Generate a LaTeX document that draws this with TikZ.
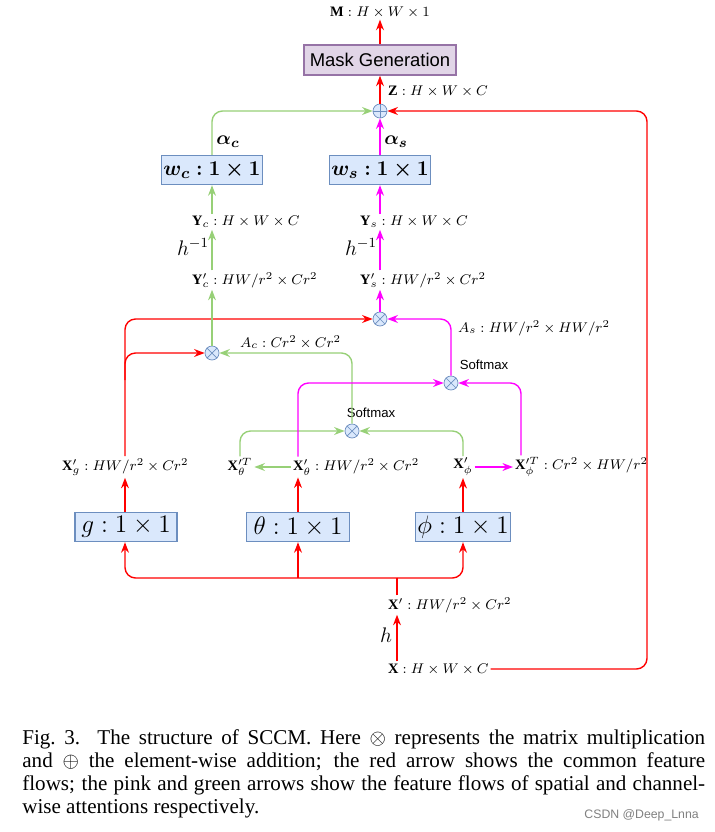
\documentclass[tikz,border=0pt]{standalone}
\usepackage{amsmath,bm}
\usepackage{fontspec}
\setmainfont{Liberation Serif}
\newfontfamily\sansf{Liberation Sans}
\usetikzlibrary{arrows.meta}
\definecolor{cred}{HTML}{FF0000}
\definecolor{cgreen}{HTML}{97D077}
\definecolor{cpink}{HTML}{FF00FF}
\definecolor{bfill}{HTML}{DAE8FC}
\definecolor{bdraw}{HTML}{6C8EBF}
\definecolor{pfill}{HTML}{E1D5E7}
\definecolor{pdraw}{HTML}{9673A6}
\begin{document}
\begin{tikzpicture}[x=0.02cm,y=-0.02cm,
  box/.style={draw=bdraw,fill=bfill,line width=0.8pt,minimum height=0.58cm,inner sep=1pt,font=\fontsize{14}{15}\selectfont},
  lab/.style={font=\fontsize{8.2}{9}\selectfont,inner sep=1pt},
  op/.style={circle,draw=bdraw,fill=bfill,minimum size=0.28cm,inner sep=0pt},
  red/.style={draw=cred,line width=0.8pt,-{Stealth[length=6pt]},rounded corners=6pt},
  grn/.style={draw=cgreen,line width=0.8pt,-{Stealth[length=6pt]},rounded corners=6pt},
  pnk/.style={draw=cpink,line width=0.8pt,-{Stealth[length=6pt]},rounded corners=6pt}]
\useasboundingbox (0,0) rectangle (715,832);
% top
\node[lab] (M) at (380,12) {$\mathbf{M}:H\times W\times 1$};
\node[draw=pdraw,fill=pfill,line width=0.8pt,minimum width=2.9cm,minimum height=0.6cm,font=\sansf\fontsize{10.5}{11}\selectfont] (mask) at (380,60) {Mask Generation};
\node[op] (plus) at (380,111) {};
\draw[bdraw] (plus.north)--(plus.south) (plus.west)--(plus.east);
\node[lab,anchor=west] (Z) at (386,91) {$\mathbf{Z}:H\times W\times C$};
\node[box,minimum width=2cm,font=\fontsize{12.5}{14}\selectfont] (wc) at (212,170) {$\bm{w_c:1\times1}$};
\node[box,minimum width=2cm,font=\fontsize{12.5}{14}\selectfont] (ws) at (380,170) {$\bm{w_s:1\times1}$};
\node[font=\fontsize{11}{12}\selectfont] (ac) at (228,142) {$\bm{\alpha_c}$};
\node[font=\fontsize{11}{12}\selectfont] (as) at (396,142) {$\bm{\alpha_s}$};
\node[lab,anchor=west] (Yc) at (190,222) {$\mathbf{Y}_c:H\times W\times C$};
\node[lab,anchor=west] (Ys) at (358,222) {$\mathbf{Y}_s:H\times W\times C$};
\node[lab,anchor=west] (Ypc) at (190,280) {$\mathbf{Y}'_c:HW/r^2\times Cr^2$};
\node[lab,anchor=west] (Yps) at (358,280) {$\mathbf{Y}'_s:HW/r^2\times Cr^2$};
\node[font=\fontsize{12}{13}\selectfont] (hc) at (193,247) {$h^{-1}$};
\node[font=\fontsize{12}{13}\selectfont] (hs) at (361,247) {$h^{-1}$};
% operators
\node[op] (mt) at (380,319) {};
\node[op] (mc) at (212,353) {};
\node[op] (ms) at (451,383) {};
\node[op] (mx) at (352,431) {};
\foreach \n in {mt,mc,ms,mx}{\draw[bdraw] (\n.north east)--(\n.south west) (\n.north west)--(\n.south east);}
\node[lab,anchor=west] (Ac) at (238,342) {$A_c:Cr^2\times Cr^2$};
\node[lab,anchor=west] (As) at (456,328) {$A_s:HW/r^2\times HW/r^2$};
\node[font=\sansf\fontsize{7.5}{8}\selectfont] (sm1) at (484,365) {Softmax};
\node[font=\sansf\fontsize{7.5}{8}\selectfont] (sm2) at (371,413) {Softmax};
% row labels
\node[lab,anchor=west] (Xg) at (60,467) {$\mathbf{X}'_g:HW/r^2\times Cr^2$};
\node[lab] (XtT) at (240,467) {$\mathbf{X}'^T_\theta$};
\node[lab,anchor=west] (Xt) at (291,467) {$\mathbf{X}'_\theta:HW/r^2\times Cr^2$};
\node[lab] (Xp) at (463,467) {$\mathbf{X}'_\phi$};
\node[lab,anchor=west] (XpT) at (513,467) {$\mathbf{X}'^T_\phi:Cr^2\times HW/r^2$};
\node[box,minimum width=2.04cm] (g) at (126,527) {$g:1\times1$};
\node[box,minimum width=2.06cm] (th) at (298,527) {$\theta:1\times1$};
\node[box,minimum width=1.76cm] (ph) at (463,527) {$\phi:1\times1$};
\node[lab,anchor=west] (Xq) at (386,605) {$\mathbf{X}':HW/r^2\times Cr^2$};
\node[font=\fontsize{13}{14}\selectfont] (h) at (386,635) {$h$};
\node[lab,anchor=west] (X) at (386,669) {$\mathbf{X}:H\times W\times C$};
\coordinate (br) at (397,578);
% red connectors
\draw[red] (mask.north)--(M.south);
\draw[red] (plus.north)--(mask.south);
\draw[red] (X.east)--(647,669)--(647,111)--(plus.east);
\draw[red] (X.north -| br)--(Xq.south -| br);
\draw[draw=cred,line width=0.8pt] (Xq.north -| br)--(br);
\draw[red] (br)--(125,578)--(g.south -| 125,0);
\draw[red] (br)--(463,578)--(ph.south);
\draw[red] (298,578)--(th.south);
\draw[red] (g.north -| 125,0)--(Xg.south -| 125,0);
\draw[red] (th.north)--(Xt.south -| th);
\draw[red] (ph.north)--(Xp.south);
\draw[red] (Xg.north -| 125,0)--(125,319)--(mt.west);
\draw[red] (125,380)--(125,353)--(mc.west);
% green
\draw[grn] (wc.north)--(212,111)--(plus.west);
\draw[grn] (Yc.north -| wc)--(wc.south);
\draw[grn] (Ypc.north -| wc)--(Yc.south -| wc);
\draw[grn] (mc.north)--(Ypc.south -| wc);
\draw[grn] (mx.north)--(352,353)--(mc.east);
\draw[grn] (XtT.north)--(240,431)--(mx.west);
\draw[grn] (Xp.north)--(463,431)--(mx.east);
\draw[grn] (Xt.west)--(XtT.east);
% pink
\draw[pnk] (ws.north)--(plus.south);
\draw[pnk] (Ys.north -| ws)--(ws.south);
\draw[pnk] (Yps.north -| ws)--(Ys.south -| ws);
\draw[pnk] (mt.north)--(Yps.south -| ws);
\draw[pnk] (ms.north)--(451,319)--(mt.east);
\draw[pnk] (Xt.north -| th)--(298,383)--(ms.west);
\draw[pnk] (XpT.north -| 521,0)--(521,383)--(ms.east);
\draw[pnk] (Xp.east)--(XpT.west);
% caption
\node[anchor=north west,text width=13.66cm,align=justify,font=\fontsize{12}{13.1}\selectfont,inner sep=0pt] (cap) at (22,729) {Fig.~3.\ \ The structure of SCCM. Here $\otimes$ represents the matrix multiplication\linebreak and $\oplus$ the element-wise addition; the red arrow shows the common feature\linebreak flows; the pink and green arrows show the feature flows of spatial and channel-\linebreak wise attentions respectively.};
\node[anchor=east,font=\sansf\fontsize{7}{8}\selectfont,text=gray] (csdn) at (705,815) {CSDN @Deep\_Lnna};
\end{tikzpicture}
\end{document}
